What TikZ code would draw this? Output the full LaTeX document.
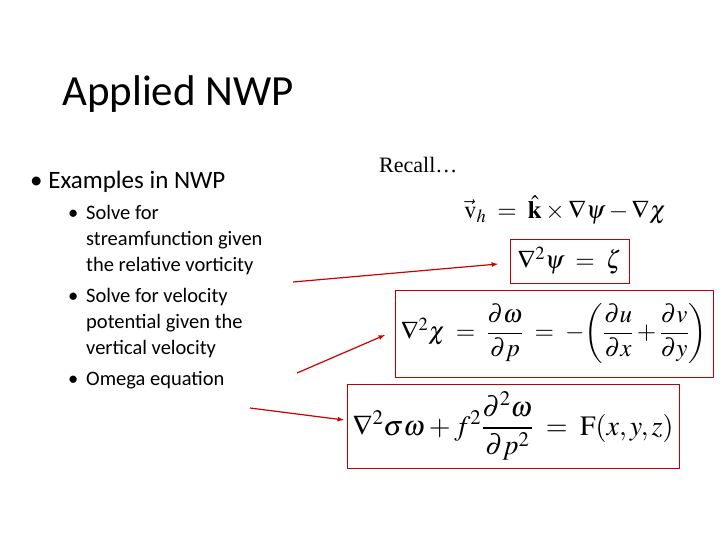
\documentclass[tikz,border=0pt]{standalone}
\usepackage{amsmath}
\usepackage{mathptmx}
\usepackage{fontspec}
\setmainfont{Carlito}
\newfontfamily\timesf{Liberation Serif}
\begin{document}
\begin{tikzpicture}[x=1pt,y=-1pt,
  box/.style={draw=red!75!black,line width=0.8pt,inner sep=3pt},
  arr/.style={red!80!black,line width=1.2pt,-latex},
  sub/.style={anchor=base west,font=\fontsize{20.5}{26}\selectfont,align=left,inner sep=0}]
\useasboundingbox (0,0) rectangle (720,540);
\node[anchor=base west,inner sep=0,font=\fontsize{43}{48}\selectfont] (title) at (62,106) {Applied NWP};
\node[anchor=base west,inner sep=0,font=\fontsize{25}{30}\selectfont] (b1) at (30,189) {\textbullet\ Examples in NWP};
\node[anchor=base west,inner sep=0,font=\fontsize{20.5}{26}\selectfont] (s1) at (68,219) {\textbullet};
\node[sub] (t1) at (86,271) {Solve for\\streamfunction given\\the relative vorticity};
\node[anchor=base west,inner sep=0,font=\fontsize{20.5}{26}\selectfont] (s2) at (68,302) {\textbullet};
\node[sub] (t2) at (86,354) {Solve for velocity\\potential given the\\vertical velocity};
\node[anchor=base west,inner sep=0,font=\fontsize{20.5}{26}\selectfont] (s3) at (68,385) {\textbullet};
\node[sub] (t3) at (86,385) {Omega equation};
\node[anchor=base west,inner sep=0,font=\timesf\fontsize{22}{26}\selectfont] (rec) at (379,173) {Recall\ldots};
\node[inner sep=0,font=\fontsize{25}{30}\selectfont] (eq0) at (565,210) {$\vec{\mathrm{v}}_h \;=\; \hat{\mathbf{k}}\times\nabla\psi-\nabla\chi$};
\node[box,minimum width=119pt,minimum height=44pt,font=\fontsize{25}{30}\selectfont] (e1) at (569.5,261) {$\nabla^2\psi \;=\; \zeta$};
\node[box,minimum width=318pt,minimum height=87pt,font=\fontsize{25}{30}\selectfont] (e2) at (554,333.5) {$\nabla^2\chi \;=\; \dfrac{\partial\omega}{\partial p} \;=\; -\!\left(\dfrac{\partial u}{\partial x}+\dfrac{\partial v}{\partial y}\right)$};
\node[box,minimum width=332pt,minimum height=84pt,font=\fontsize{28}{33}\selectfont] (e3) at (513,426) {$\nabla^2\boldsymbol{\sigma\omega} + f^2\dfrac{\partial^2\omega}{\partial p^2} \;=\; \mathrm{F}(x,y,z)$};
\coordinate (a1) at (293,282);
\coordinate (a2) at (297,373);
\coordinate (a3) at (250,408);
\draw[arr] (a1) -- (498,264);
\draw[arr] (a2) -- (385,335);
\draw[arr] (a3) -- (344,420);
\end{tikzpicture}
\end{document}
